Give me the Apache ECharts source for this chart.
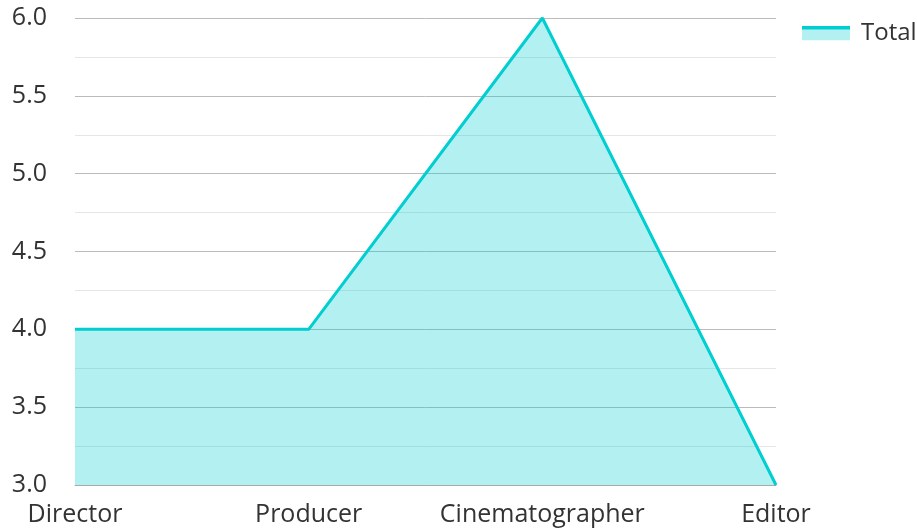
<!DOCTYPE html>
<html><head><meta charset="utf-8">
<script src="https://cdn.jsdelivr.net/npm/echarts@6/dist/echarts.min.js"></script>
<style>html,body{margin:0;padding:0;background:#fff}#c{width:917px;height:529px}</style>
</head><body><div id="c"></div>
<script>
const categories = ["Director", "Producer", "Cinematographer", "Editor"];
const totalValues = [4, 4, 6, 3];
const seriesName = "Total";

const iconSvg = '<svg xmlns="http://www.w3.org/2000/svg" width="54" height="15" viewBox="0 0 54 15">' +
  '<rect x="0" y="0" width="48" height="15" fill="#b3f0f1"/>' +
  '<rect x="0" y="0" width="48" height="4" fill="#00CED1"/></svg>';
const iconUri = 'image://data:image/svg+xml;charset=utf-8,' + encodeURIComponent(iconSvg);

const chart = echarts.init(document.getElementById('c'));
const font = "'Open Sans', 'Noto Sans', sans-serif";
chart.setOption({
  animation: false,
  textStyle: { fontFamily: font },
  legend: {
    left: 797, top: 16, itemWidth: 54, itemHeight: 15, itemGap: 10,
    textStyle: { fontSize: 24, color: '#333', fontFamily: font },
    data: [{ name: seriesName, icon: iconUri }]
  },
  grid: { left: 75, right: 141, top: 18, bottom: 44, containLabel: false },
  xAxis: {
    type: 'category', data: categories, boundaryGap: false,
    axisLine: { lineStyle: { color: '#aaa' } },
    axisTick: { show: false },
    axisLabel: { fontSize: 25, color: '#333', margin: 17, fontFamily: font, interval: 0 }
  },
  yAxis: {
    type: 'value', min: 3, max: 6, interval: 0.5,
    axisLine: { show: false }, axisTick: { show: false },
    axisLabel: { fontSize: 25, color: '#333', margin: 28, fontFamily: font,
      formatter: v => v.toFixed(1) },
    splitLine: { lineStyle: { color: '#bbb' } },
    minorTick: { show: false, splitNumber: 2 },
    minorSplitLine: { show: true, lineStyle: { color: '#e6e6e6' } }
  },
  series: [{
    name: seriesName, type: 'line', data: totalValues,
    symbol: 'none', lineStyle: { color: '#00CED1', width: 3 },
    itemStyle: { color: '#00CED1' },
    areaStyle: { color: '#00CED1', opacity: 0.3 }
  }]
});
</script></body></html>
